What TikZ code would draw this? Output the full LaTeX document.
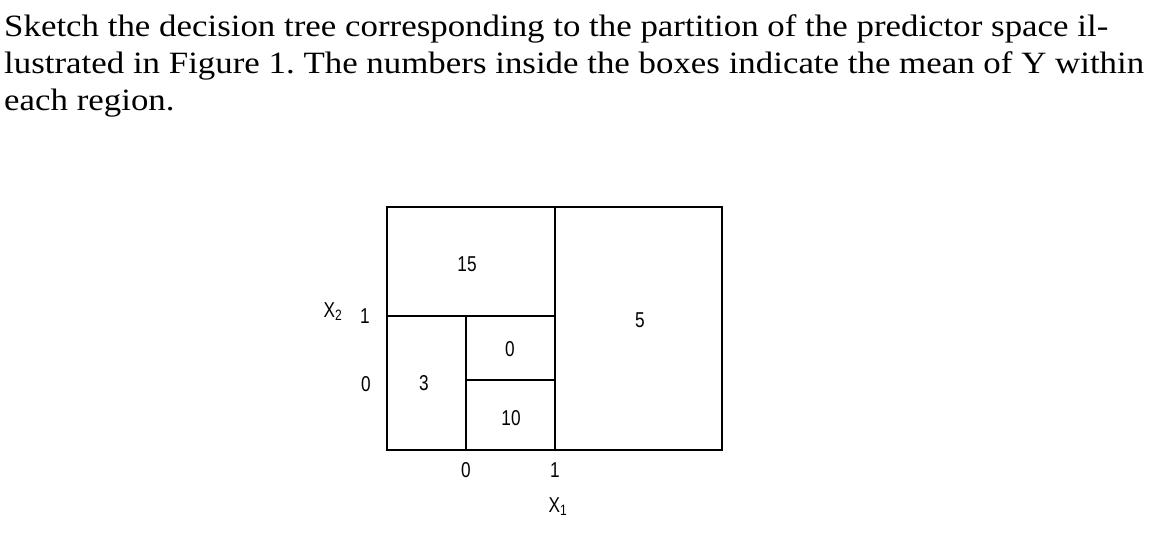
\documentclass[tikz,border=0pt]{standalone}
\usepackage{fontspec}
\setmainfont[FakeStretch=1.125]{Liberation Serif}
\newfontfamily\dfont[FakeStretch=0.8]{Liberation Sans}
\frenchspacing
\begin{document}
\begin{tikzpicture}[x=1pt,y=-1pt,
  para/.style={anchor=base west,inner sep=0pt,font=\fontsize{31}{37}\selectfont},
  lab/.style={inner sep=0pt,font=\dfont\fontsize{21.5}{25}\selectfont},
  part/.style={line width=2.2pt,line cap=rect}]
\useasboundingbox (0,0) rectangle (1176,540);
\node[para] (l1) at (4,37) {Sketch the decision tree corresponding to the partition of the predictor space il-};
\node[para] (l2) at (4,74) {lustrated in Figure 1. The numbers inside the boxes indicate the mean of Y within};
\node[para] (l3) at (4,111) {each region.};
% partition
\draw[part] (387,207) rectangle (722,450);
\draw[part] (555,207) -- (555,450);
\draw[part] (387,316) -- (555,316);
\draw[part] (466,316) -- (466,450);
\draw[part] (466,380) -- (555,380);
% region means
\node[lab] (r15) at (467,264) {15};
\node[lab] (r5) at (640,320) {5};
\node[lab] (r0) at (510,349) {0};
\node[lab] (r3) at (424,383) {3};
\node[lab] (r10) at (511,418) {10};
% axis labels
\node[lab,anchor=base] (x2) at (333,317) {X\textsubscript{2}};
\node[lab] (y1) at (365,316) {1};
\node[lab] (y0) at (366,384) {0};
\node[lab] (t0) at (466,470) {0};
\node[lab] (t1) at (555,470) {1};
\node[lab,anchor=base] (x1) at (558,512) {X\textsubscript{1}};
\end{tikzpicture}
\end{document}
